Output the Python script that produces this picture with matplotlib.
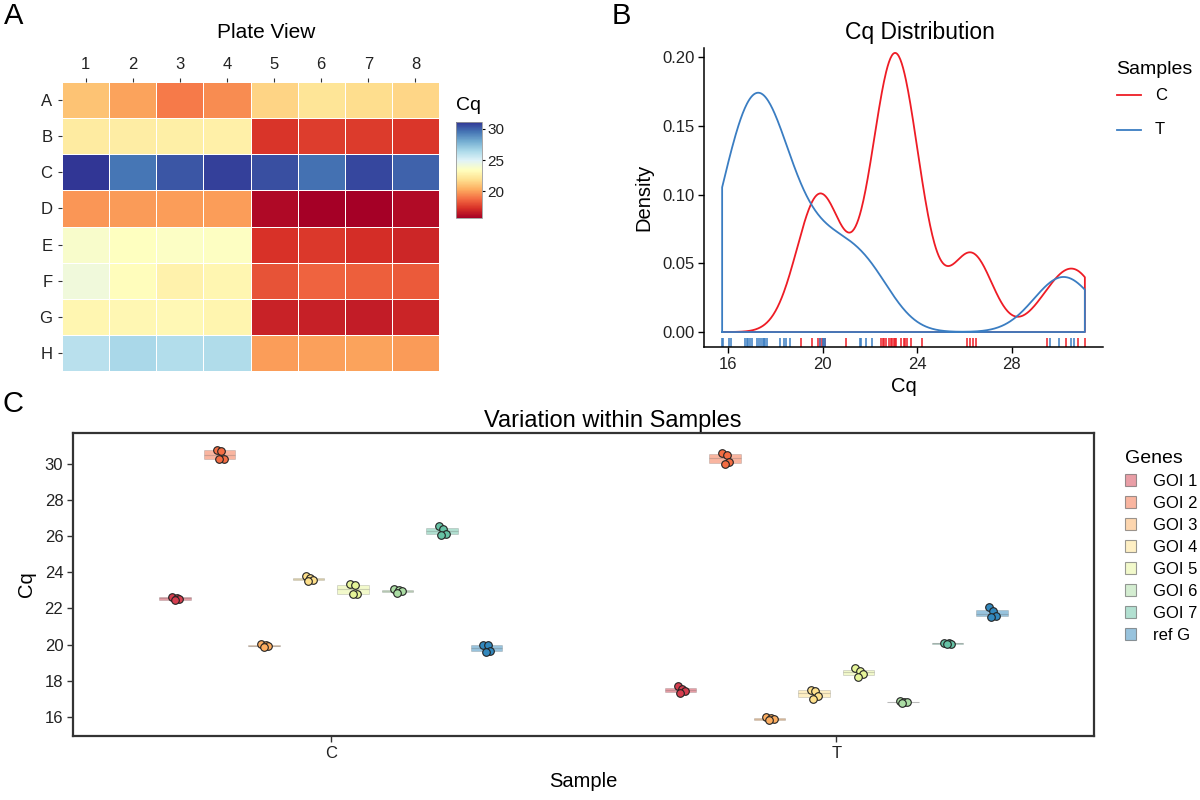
import numpy as np
import matplotlib
matplotlib.use("Agg")
import matplotlib.pyplot as plt
from matplotlib.patches import Patch
from matplotlib.lines import Line2D
from matplotlib.colors import to_rgba

plt.rcParams['font.family'] = ['Liberation Sans', 'DejaVu Sans']

# ---------------- data ----------------
plate_rows = ["A", "B", "C", "D", "E", "F", "G", "H"]
plate_cols = ["1", "2", "3", "4", "5", "6", "7", "8"]
row_A = [21.0, 20.1, 19.1, 19.55, 21.56, 22.1, 21.85, 21.6]
row_B = [22.45, 22.55, 22.6, 22.7, 17.4, 17.66, 17.55, 17.45]
row_C = [31.1, 29.5, 30.3, 30.8, 30.5, 29.62, 30.64, 30.0]
row_D = [19.8, 19.9, 19.95, 20.0, 16.05, 15.74, 15.76, 16.1]
row_E = [23.75, 23.45, 23.55, 23.5, 17.3, 17.5, 17.2, 17.0]
row_F = [24.2, 23.3, 22.8, 23.0, 18.2, 18.6, 18.45, 18.35]
row_G = [22.95, 23.05, 23.1, 22.9, 16.85, 16.8, 16.7, 16.9]
row_H = [26.1, 26.5, 26.25, 26.35, 20.0, 20.05, 20.1, 19.9]
sample_of_col = ["C", "C", "C", "C", "T", "T", "T", "T"]

samples = ["C", "T"]
sample_colors = ["#EE1C25", "#3A7DC2"]

genes = ["GOI 1", "GOI 2", "GOI 3", "GOI 4", "GOI 5", "GOI 6", "GOI 7", "ref G"]
gene_colors = ["#D53E4F", "#F46D43", "#FDAE61", "#FEE08B",
               "#E6F598", "#ABDDA4", "#66C2A5", "#3288BD"]
cq_C = {
    "GOI 1": [22.66, 22.6, 22.5, 22.45],
    "GOI 2": [30.79, 30.75, 30.3, 30.28],
    "GOI 3": [20.03, 19.95, 19.9, 19.88],
    "GOI 4": [23.77, 23.68, 23.6, 23.53],
    "GOI 5": [23.34, 23.3, 22.8, 22.79],
    "GOI 6": [23.08, 23.0, 22.95, 22.84],
    "GOI 7": [26.54, 26.4, 26.15, 26.08],
    "ref G": [20.0, 19.98, 19.62, 19.6],
}
cq_T = {
    "GOI 1": [17.7, 17.55, 17.4, 17.3],
    "GOI 2": [30.61, 30.52, 30.1, 30.02],
    "GOI 3": [16.0, 15.9, 15.85, 15.8],
    "GOI 4": [17.5, 17.45, 17.15, 17.0],
    "GOI 5": [18.69, 18.55, 18.35, 18.22],
    "GOI 6": [16.85, 16.82, 16.8, 16.75],
    "GOI 7": [20.1, 20.07, 20.05, 20.03],
    "ref G": [22.1, 21.83, 21.59, 21.55],
}

W, H = 1200, 800
def fx(px):
    return px / W
def fy(py):
    return 1 - py / H

fig = plt.figure(figsize=(12, 8), dpi=100)
TXT = "#222222"

# ---------------- Panel A: plate heatmap ----------------
plate = np.array([row_A, row_B, row_C, row_D, row_E, row_F, row_G, row_H])
axA = fig.add_axes([fx(62), fy(371), fx(377), 289 / H])
mesh = axA.pcolormesh(np.arange(9) + 0.5, np.arange(9) + 0.5, plate,
                      cmap="RdYlBu", vmin=plate.min(), vmax=plate.max(),
                      edgecolors="white", linewidth=0.6)
axA.set_xlim(0.5, 8.5)
axA.set_ylim(8.5, 0.5)
axA.xaxis.tick_top()
axA.set_xticks(range(1, 9))
axA.set_xticklabels(plate_cols)
axA.set_yticks(range(1, 9))
axA.set_yticklabels(plate_rows)
for s in axA.spines.values():
    s.set_visible(False)
axA.tick_params(length=3, color="#333333", labelsize=12, labelcolor=TXT, pad=4)

cax = fig.add_axes([fx(456), fy(218), fx(26), 96 / H])
cb = fig.colorbar(mesh, cax=cax, ticks=[20, 25, 30])
cb.outline.set_edgecolor("#999999")
cb.outline.set_linewidth(0.6)
cax.tick_params(length=2, labelsize=11, labelcolor=TXT, pad=2)
fig.text(fx(456), fy(105), "Cq", fontsize=14, va="center", ha="left")
fig.text(fx(266), fy(32), "Plate View", fontsize=15, ha="center", va="center")
fig.text(fx(4), fy(16), "A", fontsize=21, ha="left", va="center")

# ---------------- Panel B: density ----------------
axB = fig.add_axes([fx(704), fy(347), fx(399), 299 / H])
all_vals = plate.ravel()
lo, hi = all_vals.min(), all_vals.max()
grid = np.linspace(lo, hi, 512)

def bw_nrd0(x):
    sd = np.std(x, ddof=1)
    iqr = np.percentile(x, 75) - np.percentile(x, 25)
    return 0.9 * min(sd, iqr / 1.34) * len(x) ** (-0.2)

cols_s = np.array(sample_of_col)
for s, c in zip(samples, sample_colors):
    x = plate[:, cols_s == s].ravel()
    h = bw_nrd0(x)
    dens = np.exp(-0.5 * ((grid[:, None] - x[None, :]) / h) ** 2).sum(1) / (len(x) * h * np.sqrt(2 * np.pi))
    px = np.concatenate([[grid[0]], grid, [grid[-1], grid[0]]])
    py = np.concatenate([[0], dens, [0, 0]])
    axB.plot(px, py, color=c, lw=1.3, label=s)
for s, c in zip(samples, sample_colors):
    x = plate[:, cols_s == s].ravel()
    axB.vlines(x, 0, 0.03, transform=axB.get_xaxis_transform(), color=c, lw=1.1)

rng = hi - lo
axB.set_xlim(lo - 0.05 * rng, hi + 0.05 * rng)
axB.set_ylim(-0.0109, 0.2068)
axB.set_xticks([16, 20, 24, 28])
axB.set_yticks([0, 0.05, 0.10, 0.15, 0.20])
axB.set_yticklabels(["0.00", "0.05", "0.10", "0.15", "0.20"])
for k in ["top", "right"]:
    axB.spines[k].set_visible(False)
for k in ["left", "bottom"]:
    axB.spines[k].set_linewidth(1.1)
axB.tick_params(length=4, width=1, labelsize=12, labelcolor=TXT, pad=3)
axB.set_xlabel("Cq", fontsize=14.5, labelpad=4)
axB.set_ylabel("Density", fontsize=14.5, labelpad=6)
fig.text(fx(920), fy(32), "Cq Distribution", fontsize=16.5, ha="center", va="center")
fig.text(fx(612), fy(16), "B", fontsize=21, ha="left", va="center")

# legend for samples (keys placed by hand)
fig.text(fx(1116), fy(70), "Samples", fontsize=14, ha="left", va="center")
for s, c, yk in zip(samples, sample_colors, [95, 130]):
    fig.add_artist(Line2D([fx(1117), fx(1141)], [fy(yk), fy(yk)], color=c, lw=1.3))
    fig.text(fx(1155), fy(yk), s, fontsize=12, ha="left", va="center")

# ---------------- Panel C: boxplots ----------------
axC = fig.add_axes([fx(73), fy(736), fx(1021), 303 / H])
slot = 0.088
bwid = 0.062
point_dx = [-0.006, 0.003, 0.008, -0.001]
for i, (g, c) in enumerate(zip(genes, gene_colors)):
    pos = [1 + (i - 3.5) * slot, 2 + (i - 3.5) * slot]
    data = [cq_C[g], cq_T[g]]
    edge = (0.35, 0.35, 0.35, 0.25)
    axC.boxplot(data, positions=pos, widths=bwid, patch_artist=True,
                showfliers=False, showcaps=False, manage_ticks=False,
                boxprops=dict(facecolor=to_rgba(c, 0.5), edgecolor=edge, lw=0.6),
                whiskerprops=dict(color=to_rgba(c, 0.6), lw=0.8),
                medianprops=dict(color=edge, lw=0.8), zorder=2)
    for p, vals in zip(pos, data):
        xs = [p + d for d in point_dx[:len(vals)]]
        axC.scatter(xs, vals, s=30, facecolor=c, edgecolor="#222222", lw=0.8, zorder=3)

axC.set_xlim(0.49, 2.51)
axC.set_ylim(14.93, 31.72)
axC.set_xticks([1, 2])
axC.set_xticklabels(samples)
axC.set_yticks(range(16, 31, 2))
for s in axC.spines.values():
    s.set_linewidth(1.6)
    s.set_color("#333333")
axC.tick_params(length=4, width=1, color="#333333", labelsize=12, labelcolor=TXT, pad=3)
axC.set_xlabel("Sample", fontsize=14.5, labelpad=8)
axC.set_ylabel("Cq", fontsize=14.5, labelpad=6)
fig.text(fx(613), fy(421), "Variation within Samples", fontsize=17, ha="center", va="center")
fig.text(fx(3), fy(404), "C", fontsize=21, ha="left", va="center")
hC = [Patch(facecolor=to_rgba(c, 0.5), edgecolor=(0.35, 0.35, 0.35, 0.6), lw=0.8) for c in gene_colors]
axC.legend(hC, genes, title="Genes", loc="upper left",
           bbox_to_anchor=(fx(1118), fy(443)), bbox_transform=fig.transFigure,
           frameon=False, fontsize=12, title_fontsize=14,
           handlelength=0.7, handleheight=0.7, labelspacing=0.42,
           alignment="left", borderaxespad=0, handletextpad=1.0)

fig.savefig("out.png", dpi=100)
